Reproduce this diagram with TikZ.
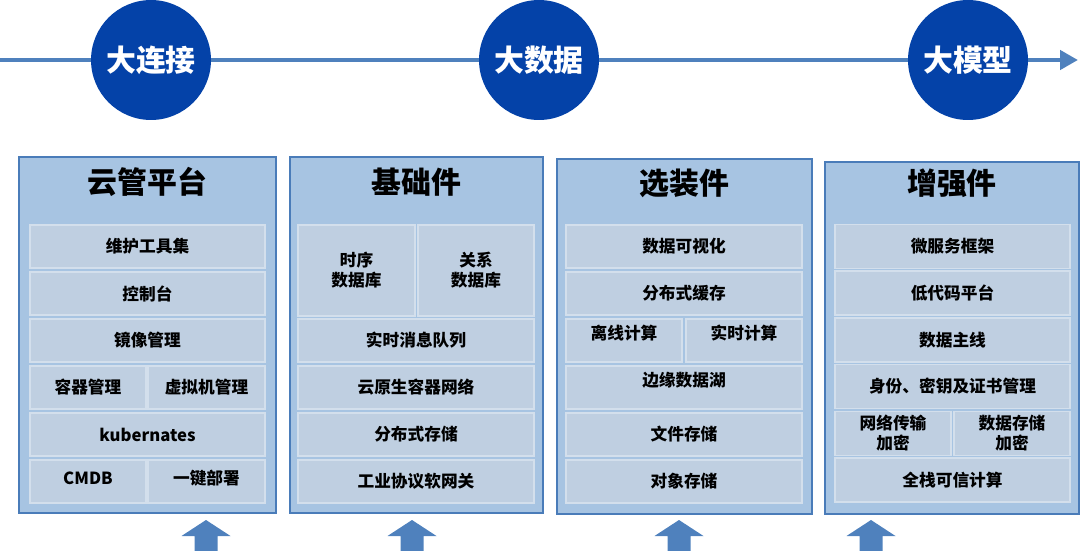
\documentclass[tikz,border=0pt]{standalone}
\usepackage{fontspec}
\newfontfamily\cjk{Noto Sans CJK SC}
\usetikzlibrary{arrows.meta}
\definecolor{lineblue}{HTML}{4F81BD}
\definecolor{darkblue}{HTML}{0442A8}
\definecolor{edgeblue}{HTML}{4A7CB9}
\definecolor{panelblue}{HTML}{A7C4E2}
\definecolor{cellblue}{HTML}{BFCFE1}
\definecolor{celledge}{HTML}{D3DFEC}

\begin{document}
\begin{tikzpicture}[x=0.02cm,y=-0.02cm,
  stage/.style={circle,fill=darkblue,minimum size=2.4cm,inner sep=0pt,text=white,font=\cjk\bfseries\fontsize{17}{20}\selectfont},
  panel/.style 2 args={draw=edgeblue,line width=0.6pt,fill=panelblue,minimum width=#1*0.02cm,minimum height=#2*0.02cm,inner sep=0pt},
  cell/.style 2 args={draw=celledge,line width=0.6pt,fill=cellblue,minimum width=#1*0.02cm,minimum height=#2*0.02cm,inner sep=0pt,align=center,font=\cjk\bfseries\fontsize{9.5}{11.4}\selectfont},
  txt/.style={inner sep=0pt,font=\cjk\bfseries\fontsize{9.5}{11.4}\selectfont},
  head/.style={inner sep=0pt,font=\cjk\bfseries\fontsize{17}{20}\selectfont},
  uparrow/.style={fill=lineblue}]
\useasboundingbox (0,0) rectangle (1080,551);
% timeline
\coordinate (tl) at (0,60);
\coordinate (tr) at (1078,60);
\draw[lineblue,line width=2.8pt,-{Triangle[length=0.36cm,width=0.38cm]}] (tl) -- (tr);
\node[stage] (s1) at (151,60) {大连接};
\node[stage] (s2) at (539,60) {大数据};
\node[stage] (s3) at (968,60) {大模型};
% cloud platform
\node[panel={257}{356}] (p1) at (147.5,335) {};
\node[head] (h1) at (147.5,182) {云管平台};
\node[cell={235}{43}] (p1a) at (147.5,246.5) {维护工具集};
\node[cell={235}{43}] (p1b) at (147.5,293.5) {控制台};
\node[cell={235}{43}] (p1c) at (147.5,340.5) {镜像管理};
\node[cell={116}{43}] (p1d) at (88,387.5) {容器管理};
\node[cell={117}{43}] (p1e) at (206.5,387.5) {虚拟机管理};
\node[cell={235}{43}] (p1f) at (147.5,434.5) {kubernates};
\node[cell={116}{43},label={[txt,yshift=0.06cm]center:CMDB}] (p1g) at (88,481.5) {};
\node[cell={117}{43},label={[txt,yshift=0.06cm]center:一键部署}] (p1h) at (206.5,481.5) {};
% base parts
\node[panel={253}{356}] (p2) at (416.5,335) {};
\node[head] (h2) at (416.5,182) {基础件};
\node[cell={117}{91}] (p2a) at (356.5,270.5) {时序\\数据库};
\node[cell={116}{91}] (p2b) at (476,270.5) {关系\\数据库};
\node[cell={236}{43}] (p2c) at (416,340.5) {实时消息队列};
\node[cell={236}{43}] (p2d) at (416,387.5) {云原生容器网络};
\node[cell={236}{43}] (p2e) at (416,434.5) {分布式存储};
\node[cell={236}{43}] (p2f) at (416,481.5) {工业协议软网关};
% optional parts
\node[panel={255}{355}] (p3) at (684.5,336.5) {};
\node[head] (h3) at (684.5,183) {选装件};
\node[cell={236}{43}] (p3a) at (684,246.5) {数据可视化};
\node[cell={236}{43}] (p3b) at (684,293.5) {分布式缓存};
\node[cell={116}{43},label={[txt,yshift=0.15cm]center:离线计算}] (p3c) at (624,340.5) {};
\node[cell={116}{43},label={[txt,yshift=0.15cm]center:实时计算}] (p3d) at (744,340.5) {};
\node[cell={236}{43},label={[txt,yshift=0.15cm]center:边缘数据湖}] (p3e) at (684,387.5) {};
\node[cell={236}{43}] (p3f) at (684,434.5) {文件存储};
\node[cell={236}{43}] (p3g) at (684,481.5) {对象存储};
% enhanced parts
\node[panel={254}{352}] (p4) at (952,338) {};
\node[head] (h4) at (952,183) {增强件};
\node[cell={235}{44}] (p4a) at (952.5,246.5) {微服务框架};
\node[cell={235}{44}] (p4b) at (952.5,293) {低代码平台};
\node[cell={235}{44}] (p4c) at (952.5,340) {数据主线};
\node[cell={235}{44}] (p4d) at (952.5,386.5) {身份、密钥及证书管理};
\node[cell={116}{44}] (p4e) at (893,433.5) {网络传输\\加密};
\node[cell={116}{44}] (p4f) at (1012,433.5) {数据存储\\加密};
\node[cell={235}{44}] (p4g) at (952.5,480) {全栈可信计算};
% up arrows
\fill[uparrow] (206,520) -- ++(24.5,16) -- ++(-13,0) -- ++(0,16) -- ++(-23,0) -- ++(0,-16) -- ++(-13,0) -- cycle;
\fill[uparrow] (412,520) -- ++(24.5,16) -- ++(-13,0) -- ++(0,16) -- ++(-23,0) -- ++(0,-16) -- ++(-13,0) -- cycle;
\fill[uparrow] (679,520) -- ++(24.5,16) -- ++(-13,0) -- ++(0,16) -- ++(-23,0) -- ++(0,-16) -- ++(-13,0) -- cycle;
\fill[uparrow] (871,520) -- ++(24.5,16) -- ++(-13,0) -- ++(0,16) -- ++(-23,0) -- ++(0,-16) -- ++(-13,0) -- cycle;
\end{tikzpicture}
\end{document}
